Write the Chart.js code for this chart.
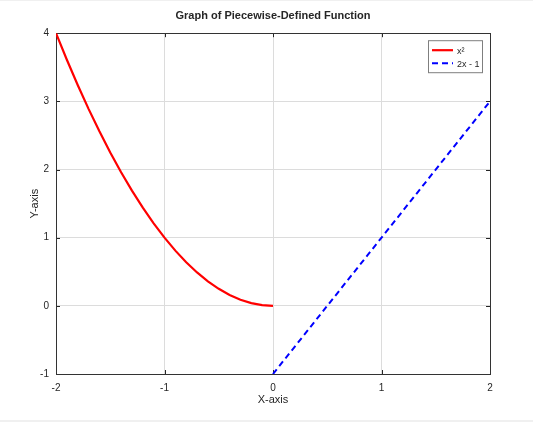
<!DOCTYPE html>
<html>
<head>
<meta charset="utf-8">
<script src="https://cdn.jsdelivr.net/npm/chart.js@4"></script>
<style>
  html, body { margin: 0; padding: 0; background: #ffffff; }
  #wrap { width: 533px; height: 422px; }
</style>
</head>
<body>
<div id="wrap"><canvas id="plot"></canvas></div>
<script>
// values
var squareX = [-2, -1.9, -1.8, -1.7, -1.6, -1.5, -1.4, -1.3, -1.2, -1.1, -1, -0.9, -0.8, -0.7, -0.6, -0.5, -0.4, -0.3, -0.2, -0.1, 0];
var squareY = [4, 3.61, 3.24, 2.89, 2.56, 2.25, 1.96, 1.69, 1.44, 1.21, 1, 0.81, 0.64, 0.49, 0.36, 0.25, 0.16, 0.09, 0.04, 0.01, 0];
var lineX = [0, 2];
var lineY = [-1, 3];
var xTicks = [-2, -1, 0, 1, 2];
var yTicks = [-1, 0, 1, 2, 3, 4];
var labels = ['x\u00B2', '2x - 1'];

function toPoints(xs, ys) {
    var pts = [];
    for (var i = 0; i < xs.length; i++) {
        pts.push({ x: xs[i], y: ys[i] });
    }
    return pts;
}

var textColor = '#262626';
var fontFamily = '"Liberation Sans", Arial, sans-serif';

// faint figure edge at top and bottom
var edgePlugin = {
    id: 'edgePlugin',
    beforeDraw: function (chart) {
        var ctx = chart.ctx;
        ctx.save();
        ctx.fillStyle = '#ffffff';
        ctx.fillRect(0, 0, chart.width, chart.height);
        ctx.fillStyle = '#f0f0f0';
        ctx.fillRect(0, 0, chart.width, 1);
        ctx.fillRect(0, chart.height - 2, chart.width, 2);
        ctx.restore();
    }
};

// box round the axes with ticks pointing inward
var boxPlugin = {
    id: 'boxPlugin',
    beforeDatasetsDraw: function (chart) {
        var ctx = chart.ctx;
        var a = chart.chartArea;
        var xs = chart.scales.x;
        var ys = chart.scales.y;
        ctx.save();
        ctx.strokeStyle = '#262626';
        ctx.lineWidth = 1;
        ctx.beginPath();
        xTicks.forEach(function (v) {
            var px = Math.round(xs.getPixelForValue(v)) + 0.5;
            ctx.moveTo(px, a.bottom);
            ctx.lineTo(px, a.bottom - 4);
            ctx.moveTo(px, a.top);
            ctx.lineTo(px, a.top + 4);
        });
        yTicks.forEach(function (v) {
            var py = Math.round(ys.getPixelForValue(v)) + 0.5;
            ctx.moveTo(a.left, py);
            ctx.lineTo(a.left + 4, py);
            ctx.moveTo(a.right, py);
            ctx.lineTo(a.right - 4, py);
        });
        ctx.stroke();
        ctx.strokeStyle = '#333333';
        ctx.strokeRect(Math.round(a.left) + 0.5, Math.round(a.top) + 0.5,
            Math.round(a.right - a.left), Math.round(a.bottom - a.top));
        ctx.restore();
    }
};

// legend drawn inside the axes, top right
var legendPlugin = {
    id: 'legendPlugin',
    afterDraw: function (chart) {
        var ctx = chart.ctx;
        var a = chart.chartArea;
        var right = a.right - 8;
        var top = a.top + 7;
        var w = 54, h = 32;
        ctx.save();
        ctx.fillStyle = '#ffffff';
        ctx.fillRect(right - w, top, w, h);
        ctx.strokeStyle = '#7f7f7f';
        ctx.lineWidth = 1;
        ctx.strokeRect(right - w + 0.5, top + 0.5, w, h);
        ctx.font = '9px ' + fontFamily;
        ctx.textBaseline = 'middle';
        chart.data.datasets.forEach(function (ds, i) {
            var y = top + 10 + i * 13;
            ctx.beginPath();
            ctx.strokeStyle = ds.borderColor;
            ctx.lineWidth = ds.borderWidth;
            ctx.setLineDash(ds.borderDash || []);
            ctx.moveTo(right - w + 4, y);
            ctx.lineTo(right - w + 25, y);
            ctx.stroke();
            ctx.setLineDash([]);
            ctx.fillStyle = textColor;
            ctx.fillText(ds.label, right - w + 29, y + 1);
        });
        ctx.restore();
    }
};

var config = {
    type: 'scatter',
    data: {
        datasets: [{
            label: labels[0],
            data: toPoints(squareX, squareY),
            showLine: true,
            borderColor: '#ff0000',
            backgroundColor: '#ff0000',
            borderWidth: 2.2,
            pointRadius: 0,
            tension: 0
        }, {
            label: labels[1],
            data: toPoints(lineX, lineY),
            showLine: true,
            borderColor: '#0000ff',
            backgroundColor: '#0000ff',
            borderWidth: 2,
            borderDash: [6, 4],
            pointRadius: 0
        }]
    },
    options: {
        responsive: true,
        maintainAspectRatio: false,
        animation: false,
        layout: { padding: { left: 0, right: 43, top: 0, bottom: 0 } },
        plugins: {
            legend: { display: false },
            tooltip: { enabled: false },
            title: {
                display: true,
                fullSize: false,
                text: 'Graph of Piecewise-Defined Function',
                color: textColor,
                font: { family: fontFamily, size: 11, weight: 'bold', lineHeight: 1.2 },
                padding: { top: 9, bottom: 11 }
            }
        },
        scales: {
            x: {
                type: 'linear',
                min: -2,
                max: 2,
                afterBuildTicks: function (scale) {
                    scale.ticks = xTicks.map(function (v) { return { value: v }; });
                },
                afterFit: function (scale) { scale.height = 48; },
                grid: { color: '#dcdcdc', drawTicks: false },
                border: { display: false },
                ticks: {
                    color: textColor,
                    padding: 8,
                    font: { family: fontFamily, size: 10 }
                },
                title: {
                    display: true,
                    text: 'X-axis',
                    color: textColor,
                    font: { family: fontFamily, size: 11, lineHeight: 1.2 },
                    padding: { top: 0, bottom: 15 }
                }
            },
            y: {
                type: 'linear',
                min: -1,
                max: 4,
                afterBuildTicks: function (scale) {
                    scale.ticks = yTicks.map(function (v) { return { value: v }; });
                },
                afterFit: function (scale) { scale.width = 56; },
                grid: { color: '#dcdcdc', drawTicks: false },
                border: { display: false },
                ticks: {
                    color: textColor,
                    padding: 7,
                    font: { family: fontFamily, size: 10 }
                },
                title: {
                    display: true,
                    text: 'Y-axis',
                    color: textColor,
                    font: { family: fontFamily, size: 11, lineHeight: 1.2 },
                    padding: { top: 28, bottom: 0 }
                }
            }
        }
    },
    plugins: [edgePlugin, boxPlugin, legendPlugin]
};

document.addEventListener('DOMContentLoaded', function () {
    new Chart(document.getElementById('plot'), config);
});
</script>
</body>
</html>
